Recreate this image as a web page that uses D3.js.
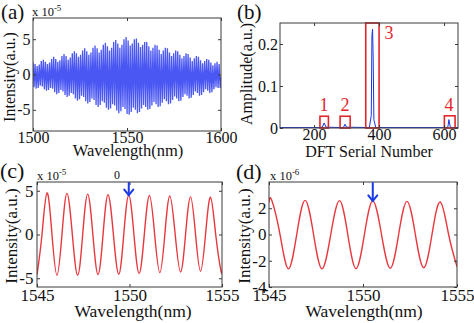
<!DOCTYPE html>
<html><head><meta charset="utf-8">
<script src="https://cdn.jsdelivr.net/npm/d3@7/dist/d3.min.js"></script>
<style>
body{margin:0;background:#fff}
svg{display:block}
</style>
</head><body>
<svg id="fig" width="474" height="323"></svg>
<script>
// ---------------- DATA ----------------
// (a) full interference spectrum: peak/trough values per fringe (x 1e-5)
const aStartNm = 1500, aFringeNm = 1.1, aEndNm = 1600;
const aPeaks = [
 1.7,1.5,1.2,1.4,1.9,2.1,1.8,1.5,1.7,2.2,
 2.5,2.2,1.8,2.0,2.6,2.9,2.6,2.1,2.4,3.0,
 3.3,3.0,2.5,2.8,3.4,3.7,3.3,2.8,3.1,3.8,
 4.1,3.7,3.1,3.5,4.2,4.5,4.0,3.4,3.8,4.6,
 4.9,4.4,3.8,4.2,5.0,5.3,4.8,4.1,4.4,5.0,
 5.1,4.5,3.9,4.2,4.6,4.6,4.0,3.4,3.8,4.2,
 4.1,3.5,2.9,3.4,3.8,3.7,3.1,2.6,3.0,3.4,
 3.3,2.8,2.3,2.6,3.0,2.9,2.4,1.9,2.3,2.6,
 2.5,2.0,1.6,1.9,2.2,2.1,1.7,1.3,1.6,1.8,
 1.5];
const aTroughs = [
 -1.8,-2.0,-1.9,-1.6,-1.7,-2.1,-2.3,-2.2,-1.9,-2.0,
 -2.5,-2.8,-2.6,-2.2,-2.4,-2.9,-3.2,-3.0,-2.6,-2.8,
 -3.4,-3.7,-3.5,-3.0,-3.2,-3.8,-4.1,-3.9,-3.4,-3.6,
 -4.3,-4.6,-4.3,-3.8,-4.0,-4.7,-5.0,-4.8,-4.2,-4.4,
 -5.1,-5.5,-5.2,-4.6,-4.9,-5.6,-5.7,-5.3,-4.7,-5.0,
 -5.5,-5.3,-4.8,-4.3,-4.6,-5.0,-4.9,-4.4,-3.9,-4.2,
 -4.6,-4.5,-4.0,-3.5,-3.8,-4.2,-4.1,-3.6,-3.1,-3.4,
 -3.8,-3.7,-3.2,-2.8,-3.0,-3.4,-3.3,-2.9,-2.4,-2.6,
 -3.0,-2.9,-2.5,-2.1,-2.3,-2.6,-2.5,-2.1,-1.8,-1.9,
 -1.9];
const aEndValue = -0.3;

// (b) DFT amplitude
const dftSerial = [95,215,225,231,237,285,291,295,300,370,376,378,380,382,384,390,608,612,615,619,625,643];
const dftAmp    = [0.001,0.001,0.002,0.012,0.002,0.001,0.002,0.009,0.002,0.001,0.03,0.22,0.235,0.16,0.02,0.001,0.001,0.003,0.02,0.003,0.001,0.001];
const boxLabels = ["1","2","3","4"];
const boxFrom   = [218,280,359,601];
const boxTo     = [244,311,400,634];
const boxTop    = [0.028,0.028,0.25,0.029];

// (c) filtered component (x 1e-5)
const cWl  = [1545.00,1545.27,1545.54,1545.81,1546.08,1546.35,1546.62,1546.91,1547.20,1547.47,
              1547.74,1548.02,1548.30,1548.57,1548.84,1549.13,1549.42,1549.69,1549.96,1550.24,
              1550.52,1550.80,1551.08,1551.36,1551.64,1551.91,1552.18,1552.47,1552.76,1553.03,
              1553.30,1553.57,1553.84,1554.11,1554.38,1554.66,1554.94,1555.00];
const cVal = [-4.6,0,4.75,0,-4.66,0,4.7,0,-4.66,0,
              4.62,0,-4.58,0,4.55,0,-4.55,0,4.5,0,
              -4.47,0,4.45,0,-4.36,0,4.4,0,-4.28,0,
              4.3,0,-4.2,0,4.25,0,-4.1,-4.08];
const cMarkWl = 1549.96, cMarkVal = 4.5, cMarkText = "0";

// (d) filtered component (x 1e-6)
const dWl  = [1545.00,1545.14,1545.585,1546.03,1546.475,1546.92,1547.37,1547.82,1548.285,1548.75,
              1549.19,1549.63,1550.075,1550.52,1550.985,1551.45,1551.895,1552.34,1552.785,1553.23,
              1553.67,1554.11,1554.555,1555.00];
const dVal = [2.45,2.62,0,-2.62,0,2.6,0,-2.62,0,2.58,
              0,-2.6,0,2.56,0,-2.57,0,2.52,0,-2.53,
              0,2.48,0,-2.45];
const dMarkWl = 1550.52, dMarkVal = 2.56;

// ticks
const aXTicks = [1500,1550,1600], aYTicks = [-5,0,5];
const bXTicks = [200,400,600],   bYTicks = [0,0.1,0.2];
const cXTicks = [1545,1550,1555], cYTicks = [-5,0,5];
const dXTicks = [1545,1550,1555], dYTicks = [-4,-2,0,2];

// ---------------- DRAW ----------------
const FONT = "Liberation Serif";
const svg = d3.select("#fig");
svg.append("rect").attr("width",474).attr("height",323).attr("fill","#fff");
const AX = "#3a3a3a";

function frame(box, x, y, xt, yt, fs, xpad, ypad, yfmt){
  const g = svg.append("g");
  g.append("g").attr("transform",`translate(0,${box.y1})`)
    .call(d3.axisBottom(x).tickValues(xt).tickSize(-3).tickPadding(xpad).tickFormat(d=>String(d)));
  g.append("g").attr("transform",`translate(0,${box.y0})`)
    .call(d3.axisTop(x).tickValues(xt).tickSize(-3).tickFormat(""));
  g.append("g").attr("transform",`translate(${box.x0},0)`)
    .call(d3.axisLeft(y).tickValues(yt).tickSize(-3).tickPadding(ypad).tickFormat(yfmt||(d=>String(d))));
  g.append("g").attr("transform",`translate(${box.x1},0)`)
    .call(d3.axisRight(y).tickValues(yt).tickSize(-3).tickFormat(""));
  g.selectAll(".domain").remove();
  g.selectAll(".tick line").attr("stroke",AX);
  g.selectAll(".tick text").attr("font-size",fs).attr("fill","#111");
  g.append("rect").attr("x",box.x0).attr("y",box.y0).attr("width",box.x1-box.x0).attr("height",box.y1-box.y0)
    .attr("fill","none").attr("stroke",AX).attr("stroke-width",1);
  return g;
}
function clip(id, box){
  svg.append("clipPath").attr("id",id).append("rect")
    .attr("x",box.x0).attr("y",box.y0).attr("width",box.x1-box.x0).attr("height",box.y1-box.y0);
}
function label(txt,x,y,fs,opts={}){
  const t = svg.append("text").attr("x",x).attr("y",y).attr("font-size",fs).attr("fill",opts.fill||"#111").text(txt);
  if(opts.anchor) t.attr("text-anchor",opts.anchor);
  return t;
}
function vlabel(txt,x,y,fs){
  svg.append("text").attr("transform",`translate(${x},${y}) rotate(-90)`).attr("text-anchor","middle")
    .attr("font-size",fs).attr("fill","#111").text(txt);
}
function multiplier(x,y,exp){
  const t = svg.append("text").attr("x",x).attr("y",y).attr("font-size",12.5).attr("fill","#111").text("x 10");
  t.append("tspan").attr("font-size",9).attr("dy",-5.5).text(exp);
}
function arrow(x, yTop, yTip){
  const g = svg.append("g").attr("stroke","#1a3ae8").attr("stroke-width",2).attr("fill","none").attr("stroke-linecap","round");
  g.append("line").attr("x1",x).attr("x2",x).attr("y1",yTop).attr("y2",yTip);
  g.append("polyline").attr("points",`${x-4.5},${yTip-5.5} ${x},${yTip} ${x+4.5},${yTip-5.5}`);
}

// ---- panel (a)
const boxA = {x0:33,x1:221,y0:18,y1:131};
const xa = d3.scaleLinear().domain([1500,1600]).range([boxA.x0,boxA.x1]);
const ya = d3.scaleLinear().domain([-8,8]).range([boxA.y1,boxA.y0]);
clip("ca",boxA);
const aPts = [];
aPeaks.forEach((p,i)=>{
  aPts.push([aStartNm + i*aFringeNm, p]);
  aPts.push([aStartNm + i*aFringeNm + aFringeNm/2, aTroughs[i]]);
});
aPts.push([aEndNm, aEndValue]);
svg.append("path").datum(aPts).attr("clip-path","url(#ca)")
  .attr("d",d3.line().x(d=>xa(d[0])).y(d=>ya(d[1])))
  .attr("fill","none").attr("stroke","#2a3af0").attr("stroke-width",1.3).attr("stroke-opacity",0.85);
frame(boxA, xa, ya, aXTicks, aYTicks, 16, 1, 2.5);
label("Wavelength(nm)",128,156,16.5,{anchor:"middle"});
vlabel("Intensity(a.u.)",15,77,16);
multiplier(32,16,"-5");
label("(a)",1,18.5,21);

// ---- panel (b)
const boxB = {x0:280,x1:458,y0:23,y1:128};
const xb = d3.scaleLinear().domain([95,643]).range([boxB.x0,boxB.x1]);
const yb = d3.scaleLinear().domain([0,0.25]).range([boxB.y1,boxB.y0]);
clip("cb",boxB);
svg.append("path").datum(dftSerial.map((s,i)=>[s,dftAmp[i]])).attr("clip-path","url(#cb)")
  .attr("d",d3.line().x(d=>xb(d[0])).y(d=>yb(d[1])))
  .attr("fill","none").attr("stroke","#1a33e6").attr("stroke-width",1);
boxLabels.forEach((l,i)=>{
  svg.append("rect").attr("x",xb(boxFrom[i])).attr("y",yb(boxTop[i]))
    .attr("width",xb(boxTo[i])-xb(boxFrom[i])).attr("height",yb(0)-yb(boxTop[i]))
    .attr("fill","none").attr("stroke","#e3262b").attr("stroke-width",1.6);
});
frame(boxB, xb, yb, bXTicks, bYTicks, 16, 1, 2, d=>d===0?"0":d3.format(".1f")(d));
const lblPos = [[324,111],[345,111],[389,39],[449,111]];
boxLabels.forEach((l,i)=>label(l,lblPos[i][0],lblPos[i][1],18,{anchor:"middle",fill:"#e3262b"}));
label("DFT Serial Number",369,157,16,{anchor:"middle"});
vlabel("Amplitude(a.u.)",252,74,16);
label("(b)",237,18.5,21);

// ---- panel (c)
const boxC = {x0:37,x1:222,y0:182,y1:287};
const xc = d3.scaleLinear().domain([1545,1555]).range([boxC.x0,boxC.x1]);
const yc = d3.scaleLinear().domain([-6,6]).range([boxC.y1,boxC.y0]);
clip("cc",boxC);
svg.append("path").datum(cWl.map((w,i)=>[w,cVal[i]])).attr("clip-path","url(#cc)")
  .attr("d",d3.line().curve(d3.curveNatural).x(d=>xc(d[0])).y(d=>yc(d[1])))
  .attr("fill","none").attr("stroke","#e8383f").attr("stroke-width",1.4);
frame(boxC, xc, yc, cXTicks, cYTicks, 17, 2, 3.5);
arrow(xc(cMarkWl), boxC.y0+1, yc(cMarkVal));
label(cMarkText,117,179,12,{anchor:"middle"});
label("Wavelength(nm)",133,317,17.5,{anchor:"middle"});
vlabel("Intensity(a.u.)",17,236,17);
multiplier(37,180,"-5");
label("(c)",0,178,22);

// ---- panel (d)
const boxD = {x0:269,x1:457,y0:182,y1:287};
const xd = d3.scaleLinear().domain([1545,1555]).range([boxD.x0,boxD.x1]);
const yd = d3.scaleLinear().domain([-4,4]).range([boxD.y1,boxD.y0]);
clip("cd",boxD);
svg.append("path").datum(dWl.map((w,i)=>[w,dVal[i]])).attr("clip-path","url(#cd)")
  .attr("d",d3.line().curve(d3.curveNatural).x(d=>xd(d[0])).y(d=>yd(d[1])))
  .attr("fill","none").attr("stroke","#e8383f").attr("stroke-width",1.4);
frame(boxD, xd, yd, dXTicks, dYTicks, 17, 2, 2.5);
arrow(xd(dMarkWl), boxD.y0+1, yd(dMarkVal));
label("Wavelength(nm)",364,317,17.5,{anchor:"middle"});
vlabel("Intensity(a.u.)",250,236,17);
multiplier(270,180,"-6");
label("(d)",236,179,22);

svg.selectAll("text").style("font-family",FONT);
svg.selectAll("g").attr("font-family",null);
</script>
</body></html>
